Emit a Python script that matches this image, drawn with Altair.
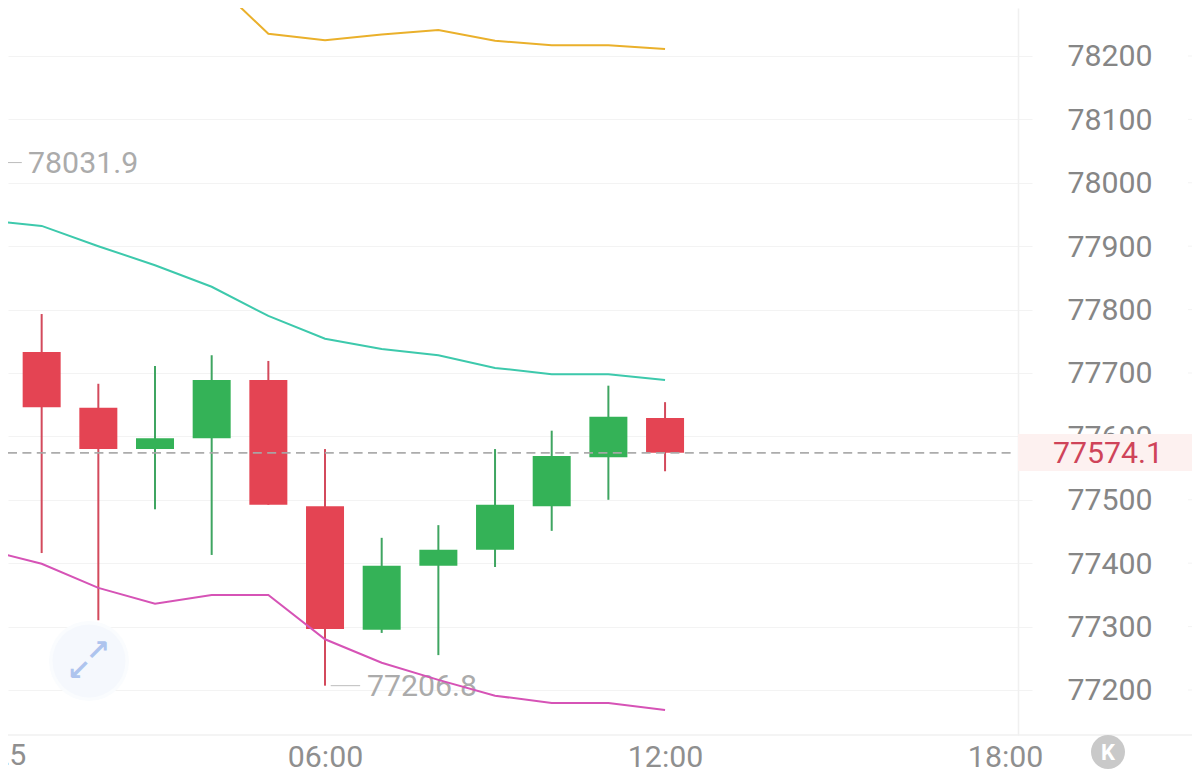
import altair as alt
import pandas as pd

hours = [0, 1, 2, 3, 4, 5, 6, 7, 8, 9, 10, 11, 12]
opens = [78008, 77733, 77645, 77580, 77597, 77689, 77490, 77295, 77396, 77421, 77490, 77567, 77629]
closes = [77733, 77646, 77580, 77597, 77689, 77492, 77296, 77396, 77421, 77492, 77569, 77631, 77574.1]
highs = [78031.9, 77793, 77683, 77711, 77728, 77719, 77580, 77440, 77460, 77580, 77609, 77680, 77654]
lows = [77700, 77416, 77310, 77485, 77413, 77492, 77206.8, 77290, 77255, 77394, 77451, 77500, 77545]
upper = [77941, 77932, 77900, 77870, 77836, 77790, 77754, 77738, 77728, 77708, 77698, 77698, 77689]
lower = [77422, 77399, 77361, 77336, 77350, 77350, 77280, 77243, 77216, 77191, 77179.5, 77179.5, 77168.5]
ma_hours = [4, 5, 6, 7, 8, 9, 10, 11, 12]
ma = [78320, 78235, 78225, 78234, 78241, 78224, 78217, 78217, 78211]
y_ticks = [77200, 77300, 77400, 77500, 77600, 77700, 77800, 77900, 78000, 78100, 78200]
x_ticks = [6, 12, 18]
x_tick_labels = ["06:00", "12:00", "18:00"]
date_hour = [0]
date_label = ["05-25"]
last_price = 77574.1
high_label = "78031.9"
low_label = "77206.8"

RED, GREEN = "#E44453", "#34B257"
RED_WICK, GREEN_WICK = "#D34A5C", "#3FA561"
FONT = "Roboto"
FS = 30.3

df = pd.DataFrame({"h": hours, "o": opens, "c": closes, "hi": highs, "lo": lows,
                   "up": upper, "dn": lower})
df["col"] = [RED if c < o else GREEN for o, c in zip(opens, closes)]
df["wick"] = [RED_WICK if c < o else GREEN_WICK for o, c in zip(opens, closes)]
df_ma = pd.DataFrame({"h": ma_hours, "v": ma})

xs = alt.Scale(domain=[0.406, 18.228], range=[0, 1010], nice=False, zero=False, padding=0)
ys = alt.Scale(domain=[77129, 78275.7], range=[727, 0], nice=False, zero=False, padding=0)

label_expr = " : ".join(f"datum.value == {t} ? '{l}'" for t, l in zip(x_ticks, x_tick_labels)) + " : ''"

ax_x = alt.Axis(
    values=x_ticks, labelExpr=label_expr, title=None, grid=False, domain=False, ticks=False,
    labelFont=FONT, labelFontSize=FS, labelColor="#8f8f8f", labelPadding=7,
    labelOverlap=False, labelFlush=False, labelBound=False)
ax_y = alt.Axis(
    orient="right", values=y_ticks, title=None, grid=True, gridColor="#f3f3f3", gridWidth=1,
    domain=True, domainColor="#f0f0f0", domainWidth=1.5, ticks=True, tickColor="#f3f3f3", tickSize=14,
    labelFont=FONT, labelFontSize=FS, labelColor="#868686", labelPadding=35, labelOffset=1,
    labelOverlap=False, format="d")

X = lambda f: alt.X(f, type="quantitative", scale=xs, axis=ax_x)
Y = lambda f: alt.Y(f, type="quantitative", scale=ys, axis=ax_y)

# frame line running across the full width
frame = pd.DataFrame({"y": [727]})
frame_rules = alt.Chart(frame).mark_rule(color="#f1f1f1", strokeWidth=1.5).encode(
    x=alt.value(0), x2=alt.value(1184), y=alt.Y("y:Q", scale=None))
right_grid = alt.Chart(pd.DataFrame({"v": y_ticks})).mark_rule(color="#f3f3f3").encode(
    x=alt.value(1180), x2=alt.value(1184), y=Y("v"))

date_text = alt.Chart(pd.DataFrame({"h": date_hour, "t": date_label})).mark_text(
    font=FONT, fontSize=FS, color="#8f8f8f", align="center", baseline="middle", dx=3).encode(
    x=X("h"), y=alt.value(748), text="t:N")

# price band
band = alt.Chart(pd.DataFrame({"a": [1]})).mark_rect(color="#fdf1f0").encode(
    x=alt.value(1010), x2=alt.value(1184), y=alt.value(426), y2=alt.value(463))
price_text = alt.Chart(pd.DataFrame({"v": [last_price], "t": [f"{last_price}"]})).mark_text(
    font=FONT, fontSize=FS, color="#CF4459", align="center", baseline="middle", dy=1).encode(
    x=alt.value(1100), y=Y("v"), text="t:N")

# extreme labels sit beneath the indicator lines
ext = pd.DataFrame({"h": [0, 6], "h0": [0.0, 6.1], "h1": [0.65, 6.62],
                    "v": [78031.9, 77206.8], "t": [high_label, low_label], "tx": [0.76, 6.74]})
ext_rule = alt.Chart(ext).mark_rule(color="#bcbcbc", strokeWidth=1, clip=True).encode(
    x=X("h0"), x2="h1:Q", y=Y("v"))
ext_text = alt.Chart(ext).mark_text(font=FONT, fontSize=FS, color="#ababab", align="left",
                                    baseline="middle", dy=1).encode(
    x=X("tx"), y=Y("v"), text="t:N")

base = alt.Chart(df)
wicks = base.mark_rule(strokeWidth=2, clip=True).encode(
    x=X("h"), y=Y("lo"), y2="hi:Q", color=alt.Color("wick:N", scale=None))
bodies = base.mark_bar(size=38, clip=True).encode(
    x=X("h"), y=Y("o"), y2="c:Q", color=alt.Color("col:N", scale=None))

line_up = base.mark_line(color="#3DC9AC", strokeWidth=2, clip=True).encode(x=X("h"), y=Y("up"))
line_dn = base.mark_line(color="#D653B6", strokeWidth=2, clip=True).encode(x=X("h"), y=Y("dn"))
line_ma = alt.Chart(df_ma).mark_line(color="#EAB02B", strokeWidth=2, clip=True).encode(x=X("h"), y=Y("v"))

last_rule = alt.Chart(pd.DataFrame({"v": [last_price]})).mark_rule(
    color="#a8a8a8", strokeWidth=1.8, strokeDash=[9, 5.4], opacity=0.95).encode(
    x=alt.value(0), x2=alt.value(1007), y=Y("v"))

# expand button
one = pd.DataFrame({"a": [1]})
expand_halo = alt.Chart(one).mark_point(filled=True, shape="circle", size=6400, color="#fafcfe", opacity=1).encode(
    x=alt.value(81), y=alt.value(653))
expand_bg = alt.Chart(one).mark_point(filled=True, shape="circle", size=5329, color="#f5f8fd", opacity=1).encode(
    x=alt.value(81), y=alt.value(653))
arrow_a = alt.Chart(one).mark_text(text="\u2197", font="DejaVu Sans", fontSize=29, fontWeight="bold",
                                   color="#aec4ee", align="center", baseline="middle").encode(
    x=alt.value(90), y=alt.value(643))
arrow_b = alt.Chart(one).mark_text(text="\u2199", font="DejaVu Sans", fontSize=29, fontWeight="bold",
                                   color="#aec4ee", align="center", baseline="middle").encode(
    x=alt.value(71), y=alt.value(663))
# collapse button
k_bg = alt.Chart(one).mark_point(filled=True, shape="circle", size=1156, color="#c9c9c9", opacity=1).encode(
    x=alt.value(1100), y=alt.value(744))
k_icon = alt.Chart(one).mark_text(text="K", font=FONT, fontSize=22, fontWeight="bold", color="#ffffff",
                                  align="center", baseline="middle").encode(
    x=alt.value(1100), y=alt.value(745))

chart = alt.layer(
    right_grid, band, price_text, frame_rules, date_text, ext_rule, ext_text,
    expand_halo, expand_bg, arrow_a, arrow_b, wicks, bodies, line_up, line_dn, line_ma, last_rule, k_bg, k_icon,
).properties(
    width=1010, height=727, background="#ffffff",
    padding={"left": 0, "top": 0, "right": 174, "bottom": 34},
    autosize=alt.AutoSizeParams(type="none"),
).configure_view(stroke=None)

chart.save("out.html", embed_options={"renderer": "svg", "actions": False})
